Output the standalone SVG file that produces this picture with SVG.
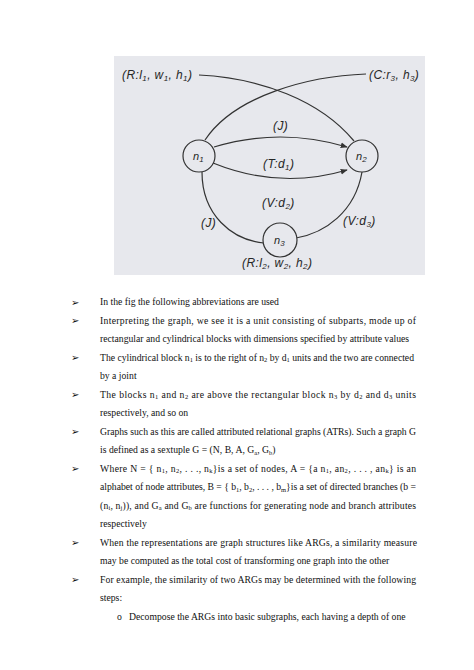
<svg xmlns="http://www.w3.org/2000/svg" width="474" height="670" viewBox="0 0 474 670">
<style>
.fig{font-family:"Liberation Sans",Arial,sans-serif;font-style:italic;font-size:12px;fill:#262626;letter-spacing:0.4px}
.nl{font-family:"Liberation Sans",Arial,sans-serif;font-style:italic;font-size:11px;fill:#262626}
.sb{font-size:8px}
.node{fill:#e7e8ed;stroke:#333;stroke-width:1.2}
.edge{fill:none;stroke:#333;stroke-width:1.2}
.body{font-family:"Liberation Serif","Times New Roman",serif;font-size:9.7px;fill:#111}
.bs{font-size:6.5px}
.bul{font-family:"DejaVu Sans",sans-serif;font-size:10px;fill:#111}
</style>
<defs>
<marker id="ah" viewBox="0 0 10 10" refX="9" refY="5" markerWidth="7" markerHeight="7" markerUnits="userSpaceOnUse" orient="auto">
<path d="M0,1 L10,5 L0,9 z" fill="#333"/>
</marker>
</defs>
<rect width="474" height="670" fill="#ffffff"/>
<rect x="114" y="56" width="311" height="219" fill="#e7e8ed"/>

<g id="connectors">
<path class="edge" d="M199,75 C260,78 320,100 354,141"/>
<path class="edge" d="M205,140 C235,95 310,76 366,74"/>
<path class="edge" d="M214,147 Q280,127 347,147" marker-end="url(#ah)"/>
<path class="edge" d="M213,163 Q280,190 347,170" marker-end="url(#ah)"/>
<path class="edge" d="M202,172 C202,215 232,240 264,243"/>
<path class="edge" d="M296,238 C325,233 355,212 362,172"/>
</g>

<g id="n1"><circle class="node" cx="199" cy="156" r="16"/><text class="nl" x="193" y="160">n<tspan class="sb" dy="2">1</tspan></text></g>
<g id="n2"><circle class="node" cx="362" cy="156" r="16"/><text class="nl" x="356" y="160">n<tspan class="sb" dy="2">2</tspan></text></g>
<g id="n3"><circle class="node" cx="280" cy="240" r="17"/><text class="nl" x="274" y="244">n<tspan class="sb" dy="2">3</tspan></text></g>

<g id="labels">
<text class="fig" x="122" y="79">(R:l<tspan class="sb" dy="2">1</tspan><tspan dy="-2">, w</tspan><tspan class="sb" dy="2">1</tspan><tspan dy="-2">, h</tspan><tspan class="sb" dy="2">1</tspan><tspan dy="-2">)</tspan></text>
<text class="fig" x="369" y="79">(C:r<tspan class="sb" dy="2">3</tspan><tspan dy="-2">, h</tspan><tspan class="sb" dy="2">3</tspan><tspan dy="-2">)</tspan></text>
<text class="fig" x="273" y="130">(J)</text>
<text class="fig" x="263" y="168">(T:d<tspan class="sb" dy="2">1</tspan><tspan dy="-2">)</tspan></text>
<text class="fig" x="262" y="207">(V:d<tspan class="sb" dy="2">2</tspan><tspan dy="-2">)</tspan></text>
<text class="fig" x="201" y="227">(J)</text>
<text class="fig" x="343" y="225">(V:d<tspan class="sb" dy="2">3</tspan><tspan dy="-2">)</tspan></text>
<text class="fig" x="242" y="267">(R:l<tspan class="sb" dy="2">2</tspan><tspan dy="-2">, w</tspan><tspan class="sb" dy="2">2</tspan><tspan dy="-2">, h</tspan><tspan class="sb" dy="2">2</tspan><tspan dy="-2">)</tspan></text>
</g>

<g id="bullets">
<text class="bul" x="71" y="305.5">➢</text>
<text class="bul" x="71" y="324">➢</text>
<text class="bul" x="71" y="361">➢</text>
<text class="bul" x="71" y="398">➢</text>
<text class="bul" x="71" y="435">➢</text>
<text class="bul" x="71" y="472">➢</text>
<text class="bul" x="71" y="546">➢</text>
<text class="bul" x="71" y="583">➢</text>
<text class="body" x="117" y="619.5">o</text>
</g>

<g id="body-text">
<text class="body" x="100" y="305">In the fig the following abbreviations are used</text>
<text class="body" x="100" y="323.5" textLength="316" lengthAdjust="spacing">Interpreting the graph, we see it is a unit consisting of subparts, mode up of</text>
<text class="body" x="100" y="342">rectangular and cylindrical blocks with dimensions specified by attribute values</text>
<text class="body" x="100" y="360.5" textLength="314" lengthAdjust="spacing">The cylindrical block n<tspan class="bs" dy="1.5">1</tspan><tspan dy="-1.5"> is to the right of n</tspan><tspan class="bs" dy="1.5">2</tspan><tspan dy="-1.5"> by d</tspan><tspan class="bs" dy="1.5">1</tspan><tspan dy="-1.5"> units and the two are connected</tspan></text>
<text class="body" x="100" y="379">by a joint</text>
<text class="body" x="100" y="397.5" textLength="316" lengthAdjust="spacing">The blocks n<tspan class="bs" dy="1.5">1</tspan><tspan dy="-1.5"> and n</tspan><tspan class="bs" dy="1.5">2</tspan><tspan dy="-1.5"> are above the rectangular block n</tspan><tspan class="bs" dy="1.5">3</tspan><tspan dy="-1.5"> by d</tspan><tspan class="bs" dy="1.5">2</tspan><tspan dy="-1.5"> and d</tspan><tspan class="bs" dy="1.5">3</tspan><tspan dy="-1.5"> units</tspan></text>
<text class="body" x="100" y="416">respectively, and so on</text>
<text class="body" x="100" y="434.5" textLength="316" lengthAdjust="spacing">Graphs such as this are called attributed relational graphs (ATRs). Such a graph G</text>
<text class="body" x="100" y="453">is defined as a sextuple G = (N, B, A, G<tspan class="bs" dy="1.5">a</tspan><tspan dy="-1.5">, G</tspan><tspan class="bs" dy="1.5">b</tspan><tspan dy="-1.5">)</tspan></text>
<text class="body" x="100" y="471.5" textLength="316" lengthAdjust="spacing">Where N = { n<tspan class="bs" dy="1.5">1</tspan><tspan dy="-1.5">, n</tspan><tspan class="bs" dy="1.5">2</tspan><tspan dy="-1.5">, . . ., n</tspan><tspan class="bs" dy="1.5">k</tspan><tspan dy="-1.5">}is a set of nodes, A = {a n</tspan><tspan class="bs" dy="1.5">1</tspan><tspan dy="-1.5">, an</tspan><tspan class="bs" dy="1.5">2</tspan><tspan dy="-1.5">, . . . , an</tspan><tspan class="bs" dy="1.5">k</tspan><tspan dy="-1.5">} is an</tspan></text>
<text class="body" x="100" y="490" textLength="316" lengthAdjust="spacing">alphabet of node attributes, B = { b<tspan class="bs" dy="1.5">1</tspan><tspan dy="-1.5">, b</tspan><tspan class="bs" dy="1.5">2</tspan><tspan dy="-1.5">, . . . , b</tspan><tspan class="bs" dy="1.5">m</tspan><tspan dy="-1.5">}is a set of directed branches (b =</tspan></text>
<text class="body" x="100" y="508.5" textLength="316" lengthAdjust="spacing">(n<tspan class="bs" dy="1.5">i</tspan><tspan dy="-1.5">, n</tspan><tspan class="bs" dy="1.5">j</tspan><tspan dy="-1.5">)), and G</tspan><tspan class="bs" dy="1.5">a</tspan><tspan dy="-1.5"> and G</tspan><tspan class="bs" dy="1.5">b</tspan><tspan dy="-1.5"> are functions for generating node and branch attributes</tspan></text>
<text class="body" x="100" y="527">respectively</text>
<text class="body" x="100" y="545.5" textLength="317" lengthAdjust="spacing">When the representations are graph structures like ARGs, a similarity measure</text>
<text class="body" x="100" y="564">may be computed as the total cost of transforming one graph into the other</text>
<text class="body" x="100" y="582.5" textLength="316" lengthAdjust="spacing">For example, the similarity of two ARGs may be determined with the following</text>
<text class="body" x="100" y="601">steps:</text>
<text class="body" x="129" y="619.5">Decompose the ARGs into basic subgraphs, each having a depth of one</text>
</g>
</svg>
